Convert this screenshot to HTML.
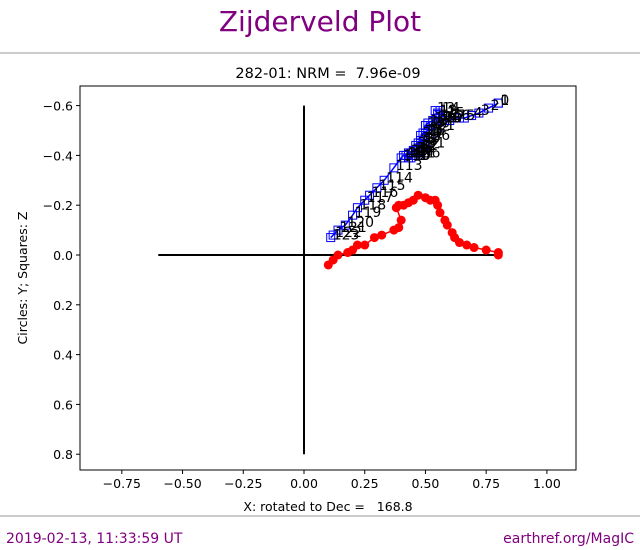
<!DOCTYPE html>
<html><head><meta charset="utf-8"><style>
body{margin:0;width:640px;height:550px;background:#fff;font-family:"DejaVu Sans","Liberation Sans",sans-serif;overflow:hidden;position:relative}
.t{position:absolute;left:0;width:640px;text-align:center;top:5px;font-size:28px;color:#800080}
.hr{position:absolute;left:0;width:640px;height:2px;background:#ccc}
.f{position:absolute;top:531px;font-size:14px;color:#800080}
svg text{white-space:pre}
</style></head><body>
<div class="t">Zijderveld Plot</div>
<div class="hr" style="top:52px"></div>
<svg id="c" width="640" height="460" style="position:absolute;left:0;top:55px"></svg>
<div class="hr" style="top:515px"></div>
<div class="f" style="left:6px">2019-02-13, 11:33:59 UT</div>
<div class="f" style="right:6px">earthref.org/MagIC</div>
<script>
const xTicks=[-0.75,-0.5,-0.25,0,0.25,0.5,0.75,1.0];
const yTicks=[-0.6,-0.4,-0.2,0,0.2,0.4,0.6,0.8];
const circX=[0.10,0.12,0.14,0.18,0.20,0.22,0.25,0.29,0.32,0.37,0.39,0.40,0.38,0.39,0.41,0.43,0.45,0.47,0.50,0.52,0.54,0.55,0.56,0.58,0.59,0.61,0.62,0.64,0.67,0.70,0.75,0.80,0.80];
const circY=[0.04,0.02,0.00,-0.01,-0.02,-0.04,-0.04,-0.07,-0.08,-0.10,-0.11,-0.14,-0.19,-0.20,-0.20,-0.21,-0.22,-0.24,-0.23,-0.22,-0.22,-0.20,-0.17,-0.14,-0.12,-0.09,-0.07,-0.05,-0.04,-0.03,-0.02,-0.01,0.00];
const sqX=[0.80,0.80,0.76,0.72,0.69,0.66,0.64,0.62,0.60,0.58,0.57,0.56,0.55,0.54,0.56,0.58,0.55,0.53,0.51,0.50,0.52,0.54,0.51,0.49,0.48,0.50,0.52,0.49,0.47,0.46,0.48,0.50,0.47,0.45,0.44,0.46,0.48,0.45,0.43,0.42,0.44,0.46,0.43,0.41,0.40,0.37,0.33,0.30,0.27,0.25,0.22,0.20,0.17,0.14,0.12,0.11];
const sqY=[-0.61,-0.61,-0.59,-0.57,-0.56,-0.55,-0.55,-0.55,-0.54,-0.54,-0.54,-0.55,-0.57,-0.58,-0.58,-0.56,-0.55,-0.54,-0.53,-0.52,-0.52,-0.51,-0.50,-0.49,-0.48,-0.49,-0.47,-0.46,-0.45,-0.44,-0.46,-0.44,-0.43,-0.42,-0.41,-0.42,-0.40,-0.40,-0.41,-0.40,-0.39,-0.40,-0.39,-0.40,-0.39,-0.35,-0.30,-0.27,-0.24,-0.22,-0.19,-0.16,-0.12,-0.10,-0.08,-0.07];
const labels=['1','0','2','3','4','5','6','7','8','9','10','11','12','13','14','15','16','17','18','19','20','21','22','23','24','25','26','27','28','29','30','31','32','33','34','35','36','37','38','39','40','41','42','43','110','113','114','115','116','117','118','119','120','121','122','123'];
const svg=document.getElementById('c'),NS='http://www.w3.org/2000/svg';
const L=80,R=576,T=31,B=415;
const xs=v=>304+v*242.9, ys=v=>200+v*249;
function mk(t,a,p){const e=document.createElementNS(NS,t);for(const k in a)e.setAttribute(k,a[k]);(p||svg).appendChild(e);return e;}
const ttl=mk('text',{x:328,y:23,'text-anchor':'middle','font-size':14.5,fill:'#000'});ttl.textContent='282-01: NRM =  7.96e-09';


mk('line',{x1:xs(-0.6),x2:xs(0.8),y1:ys(0),y2:ys(0),stroke:'#000','stroke-width':2});
mk('line',{x1:xs(0),x2:xs(0),y1:ys(-0.6),y2:ys(0.8),stroke:'#000','stroke-width':2});
xTicks.forEach(v=>{mk('line',{x1:xs(v),x2:xs(v),y1:B,y2:B+4,stroke:'#000'});const t=mk('text',{x:xs(v),y:B+18,'text-anchor':'middle','font-size':12.5});t.textContent=(v<0?'\u2212':'')+Math.abs(v).toFixed(2);

});
yTicks.forEach(v=>{mk('line',{x1:L-4,x2:L,y1:ys(v),y2:ys(v),stroke:'#000'});const t=mk('text',{x:L-7,y:ys(v)+5,'text-anchor':'end','font-size':12.5});t.textContent=(v<0?'\u2212':'')+Math.abs(v).toFixed(1);

});
const xl=mk('text',{x:328,y:B+41,'text-anchor':'middle','font-size':12.5});xl.textContent='X: rotated to Dec =   168.8';


const yl=mk('text',{x:27,y:(T+B)/2,'text-anchor':'middle','font-size':12.5,transform:`rotate(-90 27 ${(T+B)/2})`});yl.textContent='Circles: Y; Squares: Z';


mk('polyline',{points:circX.map((v,i)=>xs(v)+','+ys(circY[i])).join(' '),fill:'none',stroke:'red','stroke-width':1.5});
circX.forEach((v,i)=>{const c=mk('circle',{cx:xs(v),cy:ys(circY[i]),r:4.5,fill:'red'});

});
mk('polyline',{points:sqX.map((v,i)=>xs(v)+','+ys(sqY[i])).join(' '),fill:'none',stroke:'blue','stroke-width':1.5});
sqX.forEach((v,i)=>{const s=mk('rect',{x:xs(v)-4,y:ys(sqY[i])-4,width:8,height:8,fill:'none',stroke:'blue','stroke-width':1});

});
sqX.forEach((v,i)=>{const t=mk('text',{x:xs(v)+2,y:ys(sqY[i])+2,'font-size':14,fill:'#000'});t.textContent=labels[i];

});
mk('rect',{x:L,y:T,width:R-L,height:B-T,fill:'none',stroke:'#000','stroke-width':1});
</script>
</body></html>
